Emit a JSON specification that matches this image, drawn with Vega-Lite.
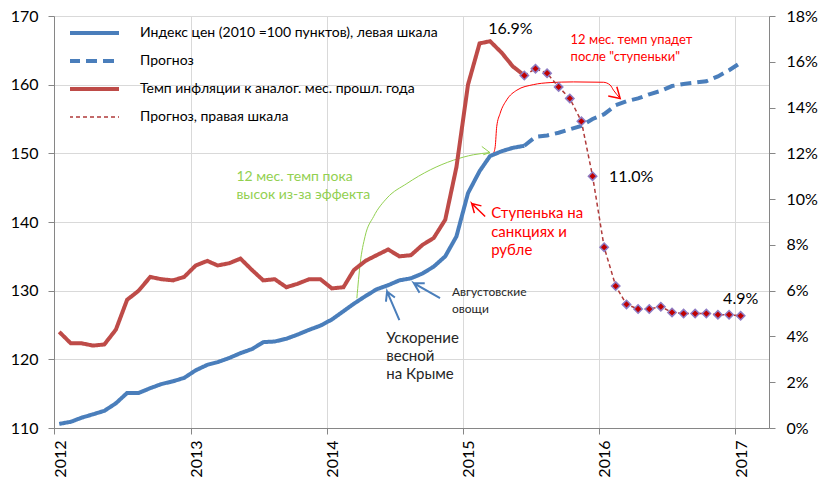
{
  "$schema": "https://vega.github.io/schema/vega-lite/v6.json",
  "width": 715,
  "height": 412,
  "autosize": {"type": "none"},
  "padding": {"left": 54, "top": 16, "right": 55, "bottom": 55},
  "background": "white",
  "datasets": {
    "series": [
      {"date": "2012-01-15", "series": "Индекс цен (2010 =100 пунктов), левая шкала", "value": 110.6},
      {"date": "2012-02-15", "series": "Индекс цен (2010 =100 пунктов), левая шкала", "value": 110.9},
      {"date": "2012-03-15", "series": "Индекс цен (2010 =100 пунктов), левая шкала", "value": 111.5},
      {"date": "2012-04-15", "series": "Индекс цен (2010 =100 пунктов), левая шкала", "value": 112.0},
      {"date": "2012-05-15", "series": "Индекс цен (2010 =100 пунктов), левая шкала", "value": 112.5},
      {"date": "2012-06-15", "series": "Индекс цен (2010 =100 пунктов), левая шкала", "value": 113.6},
      {"date": "2012-07-15", "series": "Индекс цен (2010 =100 пунктов), левая шкала", "value": 115.1},
      {"date": "2012-08-15", "series": "Индекс цен (2010 =100 пунктов), левая шкала", "value": 115.1},
      {"date": "2012-09-15", "series": "Индекс цен (2010 =100 пунктов), левая шкала", "value": 115.8},
      {"date": "2012-10-15", "series": "Индекс цен (2010 =100 пунктов), левая шкала", "value": 116.4},
      {"date": "2012-11-15", "series": "Индекс цен (2010 =100 пунктов), левая шкала", "value": 116.8},
      {"date": "2012-12-15", "series": "Индекс цен (2010 =100 пунктов), левая шкала", "value": 117.3},
      {"date": "2013-01-15", "series": "Индекс цен (2010 =100 пунктов), левая шкала", "value": 118.4},
      {"date": "2013-02-15", "series": "Индекс цен (2010 =100 пунктов), левая шкала", "value": 119.2},
      {"date": "2013-03-15", "series": "Индекс цен (2010 =100 пунктов), левая шкала", "value": 119.6},
      {"date": "2013-04-15", "series": "Индекс цен (2010 =100 пунктов), левая шкала", "value": 120.2},
      {"date": "2013-05-15", "series": "Индекс цен (2010 =100 пунктов), левая шкала", "value": 120.9},
      {"date": "2013-06-15", "series": "Индекс цен (2010 =100 пунктов), левая шкала", "value": 121.5},
      {"date": "2013-07-15", "series": "Индекс цен (2010 =100 пунктов), левая шкала", "value": 122.5},
      {"date": "2013-08-15", "series": "Индекс цен (2010 =100 пунктов), левая шкала", "value": 122.6},
      {"date": "2013-09-15", "series": "Индекс цен (2010 =100 пунктов), левая шкала", "value": 123.0},
      {"date": "2013-10-15", "series": "Индекс цен (2010 =100 пунктов), левая шкала", "value": 123.6},
      {"date": "2013-11-15", "series": "Индекс цен (2010 =100 пунктов), левая шкала", "value": 124.3},
      {"date": "2013-12-15", "series": "Индекс цен (2010 =100 пунктов), левая шкала", "value": 124.9},
      {"date": "2014-01-15", "series": "Индекс цен (2010 =100 пунктов), левая шкала", "value": 125.8},
      {"date": "2014-02-15", "series": "Индекс цен (2010 =100 пунктов), левая шкала", "value": 127.0},
      {"date": "2014-03-15", "series": "Индекс цен (2010 =100 пунктов), левая шкала", "value": 128.1},
      {"date": "2014-04-15", "series": "Индекс цен (2010 =100 пунктов), левая шкала", "value": 129.2},
      {"date": "2014-05-15", "series": "Индекс цен (2010 =100 пунктов), левая шкала", "value": 130.2},
      {"date": "2014-06-15", "series": "Индекс цен (2010 =100 пунктов), левая шкала", "value": 130.8},
      {"date": "2014-07-15", "series": "Индекс цен (2010 =100 пунктов), левая шкала", "value": 131.5},
      {"date": "2014-08-15", "series": "Индекс цен (2010 =100 пунктов), левая шкала", "value": 131.8},
      {"date": "2014-09-15", "series": "Индекс цен (2010 =100 пунктов), левая шкала", "value": 132.5},
      {"date": "2014-10-15", "series": "Индекс цен (2010 =100 пунктов), левая шкала", "value": 133.5},
      {"date": "2014-11-15", "series": "Индекс цен (2010 =100 пунктов), левая шкала", "value": 135.0},
      {"date": "2014-12-15", "series": "Индекс цен (2010 =100 пунктов), левая шкала", "value": 137.9},
      {"date": "2015-01-15", "series": "Индекс цен (2010 =100 пунктов), левая шкала", "value": 144.2},
      {"date": "2015-02-15", "series": "Индекс цен (2010 =100 пунктов), левая шкала", "value": 147.4},
      {"date": "2015-03-15", "series": "Индекс цен (2010 =100 пунктов), левая шкала", "value": 149.6},
      {"date": "2015-04-15", "series": "Индекс цен (2010 =100 пунктов), левая шкала", "value": 150.3},
      {"date": "2015-05-15", "series": "Индекс цен (2010 =100 пунктов), левая шкала", "value": 150.8},
      {"date": "2015-06-15", "series": "Индекс цен (2010 =100 пунктов), левая шкала", "value": 151.1},

      {"date": "2015-06-15", "series": "Прогноз", "value": 151.1},
      {"date": "2015-07-15", "series": "Прогноз", "value": 152.4},
      {"date": "2015-08-15", "series": "Прогноз", "value": 152.6},
      {"date": "2015-09-15", "series": "Прогноз", "value": 153.0},
      {"date": "2015-10-15", "series": "Прогноз", "value": 153.5},
      {"date": "2015-11-15", "series": "Прогноз", "value": 154.0},
      {"date": "2015-12-15", "series": "Прогноз", "value": 155.0},
      {"date": "2016-01-15", "series": "Прогноз", "value": 155.7},
      {"date": "2016-02-15", "series": "Прогноз", "value": 157.0},
      {"date": "2016-03-15", "series": "Прогноз", "value": 157.6},
      {"date": "2016-04-15", "series": "Прогноз", "value": 158.0},
      {"date": "2016-05-15", "series": "Прогноз", "value": 158.6},
      {"date": "2016-06-15", "series": "Прогноз", "value": 159.1},
      {"date": "2016-07-15", "series": "Прогноз", "value": 159.8},
      {"date": "2016-08-15", "series": "Прогноз", "value": 160.1},
      {"date": "2016-09-15", "series": "Прогноз", "value": 160.3},
      {"date": "2016-10-15", "series": "Прогноз", "value": 160.5},
      {"date": "2016-11-15", "series": "Прогноз", "value": 161.2},
      {"date": "2016-12-15", "series": "Прогноз", "value": 162.1},
      {"date": "2017-01-15", "series": "Прогноз", "value": 163.2},

      {"date": "2012-01-15", "series": "Темп инфляции к аналог. мес. прошл. года", "value": 4.2},
      {"date": "2012-02-15", "series": "Темп инфляции к аналог. мес. прошл. года", "value": 3.7},
      {"date": "2012-03-15", "series": "Темп инфляции к аналог. мес. прошл. года", "value": 3.7},
      {"date": "2012-04-15", "series": "Темп инфляции к аналог. мес. прошл. года", "value": 3.6},
      {"date": "2012-05-15", "series": "Темп инфляции к аналог. мес. прошл. года", "value": 3.65},
      {"date": "2012-06-15", "series": "Темп инфляции к аналог. мес. прошл. года", "value": 4.3},
      {"date": "2012-07-15", "series": "Темп инфляции к аналог. мес. прошл. года", "value": 5.6},
      {"date": "2012-08-15", "series": "Темп инфляции к аналог. мес. прошл. года", "value": 6.0},
      {"date": "2012-09-15", "series": "Темп инфляции к аналог. мес. прошл. года", "value": 6.6},
      {"date": "2012-10-15", "series": "Темп инфляции к аналог. мес. прошл. года", "value": 6.5},
      {"date": "2012-11-15", "series": "Темп инфляции к аналог. мес. прошл. года", "value": 6.45},
      {"date": "2012-12-15", "series": "Темп инфляции к аналог. мес. прошл. года", "value": 6.6},
      {"date": "2013-01-15", "series": "Темп инфляции к аналог. мес. прошл. года", "value": 7.1},
      {"date": "2013-02-15", "series": "Темп инфляции к аналог. мес. прошл. года", "value": 7.3},
      {"date": "2013-03-15", "series": "Темп инфляции к аналог. мес. прошл. года", "value": 7.1},
      {"date": "2013-04-15", "series": "Темп инфляции к аналог. мес. прошл. года", "value": 7.2},
      {"date": "2013-05-15", "series": "Темп инфляции к аналог. мес. прошл. года", "value": 7.4},
      {"date": "2013-06-15", "series": "Темп инфляции к аналог. мес. прошл. года", "value": 6.9},
      {"date": "2013-07-15", "series": "Темп инфляции к аналог. мес. прошл. года", "value": 6.45},
      {"date": "2013-08-15", "series": "Темп инфляции к аналог. мес. прошл. года", "value": 6.5},
      {"date": "2013-09-15", "series": "Темп инфляции к аналог. мес. прошл. года", "value": 6.15},
      {"date": "2013-10-15", "series": "Темп инфляции к аналог. мес. прошл. года", "value": 6.3},
      {"date": "2013-11-15", "series": "Темп инфляции к аналог. мес. прошл. года", "value": 6.5},
      {"date": "2013-12-15", "series": "Темп инфляции к аналог. мес. прошл. года", "value": 6.5},
      {"date": "2014-01-15", "series": "Темп инфляции к аналог. мес. прошл. года", "value": 6.1},
      {"date": "2014-02-15", "series": "Темп инфляции к аналог. мес. прошл. года", "value": 6.15},
      {"date": "2014-03-15", "series": "Темп инфляции к аналог. мес. прошл. года", "value": 6.9},
      {"date": "2014-04-15", "series": "Темп инфляции к аналог. мес. прошл. года", "value": 7.3},
      {"date": "2014-05-15", "series": "Темп инфляции к аналог. мес. прошл. года", "value": 7.55},
      {"date": "2014-06-15", "series": "Темп инфляции к аналог. мес. прошл. года", "value": 7.8},
      {"date": "2014-07-15", "series": "Темп инфляции к аналог. мес. прошл. года", "value": 7.5},
      {"date": "2014-08-15", "series": "Темп инфляции к аналог. мес. прошл. года", "value": 7.55},
      {"date": "2014-09-15", "series": "Темп инфляции к аналог. мес. прошл. года", "value": 8.0},
      {"date": "2014-10-15", "series": "Темп инфляции к аналог. мес. прошл. года", "value": 8.3},
      {"date": "2014-11-15", "series": "Темп инфляции к аналог. мес. прошл. года", "value": 9.1},
      {"date": "2014-12-15", "series": "Темп инфляции к аналог. мес. прошл. года", "value": 11.4},
      {"date": "2015-01-15", "series": "Темп инфляции к аналог. мес. прошл. года", "value": 15.0},
      {"date": "2015-02-15", "series": "Темп инфляции к аналог. мес. прошл. года", "value": 16.8},
      {"date": "2015-03-15", "series": "Темп инфляции к аналог. мес. прошл. года", "value": 16.9},
      {"date": "2015-04-15", "series": "Темп инфляции к аналог. мес. прошл. года", "value": 16.4},
      {"date": "2015-05-15", "series": "Темп инфляции к аналог. мес. прошл. года", "value": 15.8},
      {"date": "2015-06-15", "series": "Темп инфляции к аналог. мес. прошл. года", "value": 15.4},

      {"date": "2015-06-15", "series": "Прогноз, правая шкала", "value": 15.4},
      {"date": "2015-07-15", "series": "Прогноз, правая шкала", "value": 15.7},
      {"date": "2015-08-15", "series": "Прогноз, правая шкала", "value": 15.5},
      {"date": "2015-09-15", "series": "Прогноз, правая шкала", "value": 14.9},
      {"date": "2015-10-15", "series": "Прогноз, правая шкала", "value": 14.4},
      {"date": "2015-11-15", "series": "Прогноз, правая шкала", "value": 13.4},
      {"date": "2015-12-15", "series": "Прогноз, правая шкала", "value": 11.0},
      {"date": "2016-01-15", "series": "Прогноз, правая шкала", "value": 7.9},
      {"date": "2016-02-15", "series": "Прогноз, правая шкала", "value": 6.2},
      {"date": "2016-03-15", "series": "Прогноз, правая шкала", "value": 5.4},
      {"date": "2016-04-15", "series": "Прогноз, правая шкала", "value": 5.2},
      {"date": "2016-05-15", "series": "Прогноз, правая шкала", "value": 5.2},
      {"date": "2016-06-15", "series": "Прогноз, правая шкала", "value": 5.3},
      {"date": "2016-07-15", "series": "Прогноз, правая шкала", "value": 5.05},
      {"date": "2016-08-15", "series": "Прогноз, правая шкала", "value": 5.0},
      {"date": "2016-09-15", "series": "Прогноз, правая шкала", "value": 5.0},
      {"date": "2016-10-15", "series": "Прогноз, правая шкала", "value": 5.0},
      {"date": "2016-11-15", "series": "Прогноз, правая шкала", "value": 4.95},
      {"date": "2016-12-15", "series": "Прогноз, правая шкала", "value": 4.95},
      {"date": "2017-01-15", "series": "Прогноз, правая шкала", "value": 4.9}
    ],
    "notes": [
      {"group": "pct", "text": "16.9%", "date": "2015-03-10", "value": 168.1},
      {"group": "pct", "text": "11.0%", "date": "2016-01-28", "value": 146.55},
      {"group": "pct", "text": "4.9%", "date": "2016-11-29", "value": 128.8},
      {"group": "redsmall", "text": "12 мес. темп упадет", "date": "2015-10-17", "value": 166.5},
      {"group": "redsmall", "text": "после \"ступеньки\"", "date": "2015-10-17", "value": 164.0},
      {"group": "redbig", "text": "Ступенька на", "date": "2015-03-18", "value": 141.3},
      {"group": "redbig", "text": "санкциях и", "date": "2015-03-18", "value": 138.55},
      {"group": "redbig", "text": "рубле", "date": "2015-03-18", "value": 135.9},
      {"group": "green", "text": "12 мес. темп пока", "date": "2013-05-04", "value": 146.55},
      {"group": "green", "text": "высок из-за эффекта", "date": "2013-05-04", "value": 143.9},
      {"group": "darksmall", "text": "Августовские", "date": "2014-12-03", "value": 129.8},
      {"group": "darksmall", "text": "овощи", "date": "2014-12-03", "value": 127.3},
      {"group": "dark", "text": "Ускорение", "date": "2014-06-10", "value": 123.1},
      {"group": "dark", "text": "весной", "date": "2014-06-10", "value": 120.5},
      {"group": "dark", "text": "на Крыме", "date": "2014-06-10", "value": 117.9}
    ],
    "arrows": [
      {"id": "g", "date": "2014-03-23", "value": 128.9},
      {"id": "g", "date": "2014-04-01", "value": 134.0},
      {"id": "g", "date": "2014-04-14", "value": 137.9},
      {"id": "g", "date": "2014-05-07", "value": 140.8},
      {"id": "g", "date": "2014-06-12", "value": 143.5},
      {"id": "g", "date": "2014-08-04", "value": 145.6},
      {"id": "g", "date": "2014-10-06", "value": 147.6},
      {"id": "g", "date": "2014-12-07", "value": 149.0},
      {"id": "g", "date": "2015-01-30", "value": 149.8},
      {"id": "g", "date": "2015-03-15", "value": 150.1},
      {"id": "gh", "date": "2015-02-21", "value": 151.0},
      {"id": "gh", "date": "2015-03-15", "value": 150.1},
      {"id": "gh", "date": "2015-02-25", "value": 149.8},
      {"id": "r", "date": "2015-03-24", "value": 150.0},
      {"id": "r", "date": "2015-03-29", "value": 151.0},
      {"id": "r", "date": "2015-04-02", "value": 153.9},
      {"id": "r", "date": "2015-04-11", "value": 155.8},
      {"id": "r", "date": "2015-04-29", "value": 157.8},
      {"id": "r", "date": "2015-05-26", "value": 159.2},
      {"id": "r", "date": "2015-07-09", "value": 160.0},
      {"id": "r", "date": "2015-08-23", "value": 160.3},
      {"id": "r", "date": "2015-10-25", "value": 160.4},
      {"id": "r", "date": "2016-01-13", "value": 160.35},
      {"id": "r", "date": "2016-01-31", "value": 159.95},
      {"id": "r", "date": "2016-02-09", "value": 159.2},
      {"id": "r", "date": "2016-02-27", "value": 158.0},
      {"id": "rh", "date": "2016-01-26", "value": 158.35},
      {"id": "rh", "date": "2016-02-27", "value": 158.0},
      {"id": "rh", "date": "2016-02-18", "value": 159.7},
      {"id": "ra", "date": "2015-03-02", "value": 140.8},
      {"id": "ra", "date": "2015-01-25", "value": 142.7},
      {"id": "ra", "date": "2015-02-01", "value": 141.3},
      {"id": "ra", "date": "2015-01-25", "value": 142.7},
      {"id": "ra", "date": "2015-02-20", "value": 142.35},
      {"id": "b1", "date": "2014-07-15", "value": 125.7},
      {"id": "b1", "date": "2014-06-12", "value": 129.85},
      {"id": "b1", "date": "2014-06-09", "value": 128.4},
      {"id": "b1", "date": "2014-06-12", "value": 129.85},
      {"id": "b1", "date": "2014-07-03", "value": 129.0},
      {"id": "b2", "date": "2014-11-01", "value": 128.9},
      {"id": "b2", "date": "2014-08-23", "value": 131.07},
      {"id": "b2", "date": "2014-09-07", "value": 129.69},
      {"id": "b2", "date": "2014-08-23", "value": 131.07},
      {"id": "b2", "date": "2014-09-21", "value": 131.07}
    ]
  },
  "encoding": {
    "x": {
      "field": "date",
      "type": "temporal",
      "title": null,
      "scale": {
        "type": "utc",
        "domain": [
          {"year": 2012, "month": 1, "date": 1, "utc": true},
          {"year": 2017, "month": 4, "date": 1, "utc": true}
        ]
      },
      "axis": {
        "values": [
          {"year": 2012, "month": 1, "date": 1, "utc": true},
          {"year": 2013, "month": 1, "date": 1, "utc": true},
          {"year": 2014, "month": 1, "date": 1, "utc": true},
          {"year": 2015, "month": 1, "date": 1, "utc": true},
          {"year": 2016, "month": 1, "date": 1, "utc": true},
          {"year": 2017, "month": 1, "date": 1, "utc": true}
        ],
        "labelExpr": "utcFormat(datum.value, '%Y')",
        "labelAngle": 270,
        "labelPadding": 6,
        "labelOffset": 6,
        "grid": true
      }
    }
  },
  "layer": [
    {
      "encoding": {
        "y": {
          "field": "value",
          "type": "quantitative",
          "title": null,
          "scale": {"domain": [110, 170], "nice": false, "zero": false},
          "axis": {"values": [110, 120, 130, 140, 150, 160, 170], "grid": true, "labelPadding": 10}
        }
      },
      "layer": [
        {
          "data": {"name": "arrows"},
          "transform": [{"filter": "datum.id == 'g'"}],
          "mark": {"type": "line", "interpolate": "monotone", "color": "#92D050", "strokeWidth": 1}
        },
        {
          "data": {"name": "arrows"},
          "transform": [{"filter": "datum.id == 'gh'"}],
          "mark": {"type": "line", "color": "#92D050", "strokeWidth": 1},
          "encoding": {"order": {"value": null}}
        },
        {
          "data": {"name": "arrows"},
          "transform": [{"filter": "datum.id == 'r'"}],
          "mark": {"type": "line", "interpolate": "monotone", "color": "#FF0000", "strokeWidth": 1}
        },
        {
          "data": {"name": "arrows"},
          "transform": [{"filter": "datum.id == 'rh' || datum.id == 'ra'"}],
          "mark": {"type": "line", "color": "#FF0000", "strokeWidth": 1.5},
          "encoding": {"detail": {"field": "id"}, "order": {"value": null}}
        },
        {
          "data": {"name": "arrows"},
          "transform": [{"filter": "datum.id == 'b1' || datum.id == 'b2'"}],
          "mark": {"type": "line", "color": "#4A7EBB", "strokeWidth": 2},
          "encoding": {"detail": {"field": "id"}, "order": {"value": null}}
        },
        {
          "data": {"name": "series"},
          "transform": [{"filter": {"field": "series", "oneOf": ["Индекс цен (2010 =100 пунктов), левая шкала", "Прогноз"]}}],
          "mark": {"type": "line", "strokeCap": "butt", "strokeWidth": 4},
          "encoding": {
            "color": {
              "field": "series", "type": "nominal", "title": null,
              "scale": {
                "domain": ["Индекс цен (2010 =100 пунктов), левая шкала", "Прогноз", "Темп инфляции к аналог. мес. прошл. года", "Прогноз, правая шкала"],
                "range": ["#4A7EBB", "#4A7EBB", "#BE4B48", "#B03A3A"]
              },
              "legend": {
                "orient": "none",
                "legendX": 16,
                "legendY": 9,
                "symbolStrokeWidth": 4,
                "encode": {
                  "symbols": {
                    "update": {
                      "strokeWidth": {"signal": "datum.value == 'Прогноз, правая шкала' ? 1.5 : 4"}
                    }
                  }
                }
              }
            },
            "strokeDash": {
              "field": "series", "type": "nominal", "title": null,
              "scale": {
                "domain": ["Индекс цен (2010 =100 пунктов), левая шкала", "Прогноз", "Темп инфляции к аналог. мес. прошл. года", "Прогноз, правая шкала"],
                "range": [[1, 0], [11, 6], [1, 0], [4, 3]]
              }
            }
          }
        },
        {
          "data": {"name": "notes"},
          "transform": [{"filter": "datum.group == 'pct'"}],
          "mark": {"type": "text", "align": "left", "baseline": "middle", "font": "Lato", "fontSize": 16, "color": "#000000"},
          "encoding": {"text": {"field": "text"}}
        },
        {
          "data": {"name": "notes"},
          "transform": [{"filter": "datum.group == 'redsmall'"}],
          "mark": {"type": "text", "align": "left", "baseline": "middle", "font": "Lato", "fontSize": 13, "color": "#FF0000"},
          "encoding": {"text": {"field": "text"}}
        },
        {
          "data": {"name": "notes"},
          "transform": [{"filter": "datum.group == 'redbig'"}],
          "mark": {"type": "text", "align": "left", "baseline": "middle", "font": "Lato", "fontSize": 15, "color": "#FF0000"},
          "encoding": {"text": {"field": "text"}}
        },
        {
          "data": {"name": "notes"},
          "transform": [{"filter": "datum.group == 'green'"}],
          "mark": {"type": "text", "align": "left", "baseline": "middle", "font": "Lato", "fontSize": 14, "color": "#92D050"},
          "encoding": {"text": {"field": "text"}}
        },
        {
          "data": {"name": "notes"},
          "transform": [{"filter": "datum.group == 'darksmall'"}],
          "mark": {"type": "text", "align": "left", "baseline": "middle", "font": "Lato", "fontSize": 12, "color": "#262626"},
          "encoding": {"text": {"field": "text"}}
        },
        {
          "data": {"name": "notes"},
          "transform": [{"filter": "datum.group == 'dark'"}],
          "mark": {"type": "text", "align": "left", "baseline": "middle", "font": "Lato", "fontSize": 15, "color": "#262626"},
          "encoding": {"text": {"field": "text"}}
        }
      ]
    },
    {
      "encoding": {
        "y": {
          "field": "value",
          "type": "quantitative",
          "title": null,
          "scale": {"domain": [0, 18], "nice": false},
          "axis": {
            "orient": "right",
            "values": [0, 2, 4, 6, 8, 10, 12, 14, 16, 18],
            "labelExpr": "datum.value + '%'",
            "grid": false,
            "labelPadding": 11
          }
        }
      },
      "layer": [
        {
          "data": {"name": "series"},
          "transform": [{"filter": {"field": "series", "equal": "Темп инфляции к аналог. мес. прошл. года"}}],
          "mark": {"type": "line", "strokeCap": "butt", "strokeWidth": 4},
          "encoding": {
            "color": {"field": "series", "type": "nominal", "title": null},
            "strokeDash": {"field": "series", "type": "nominal", "title": null}
          }
        },
        {
          "data": {"name": "series"},
          "transform": [{"filter": {"field": "series", "equal": "Прогноз, правая шкала"}}],
          "mark": {"type": "line", "strokeCap": "butt", "strokeWidth": 1.5},
          "encoding": {
            "color": {"field": "series", "type": "nominal", "title": null},
            "strokeDash": {"field": "series", "type": "nominal", "title": null}
          }
        },
        {
          "data": {"name": "series"},
          "transform": [{"filter": {"field": "series", "equal": "Прогноз, правая шкала"}}],
          "mark": {"type": "point", "shape": "diamond", "filled": true, "size": 70, "fill": "#C00000", "stroke": "#8E7CC3", "strokeWidth": 1.5, "opacity": 1}
        }
      ]
    }
  ],
  "resolve": {"scale": {"y": "independent"}},
  "config": {
    "font": "Lato",
    "view": {"stroke": null},
    "axis": {
      "labelFont": "Lato",
      "labelFontSize": 16,
      "labelColor": "#000000",
      "domainColor": "#868686",
      "tickColor": "#868686",
      "gridColor": "#D9D9D9",
      "tickSize": 6
    },
    "legend": {
      "orient": "none",
      "legendX": 16,
      "legendY": 9,
      "padding": 0,
      "labelFont": "Lato",
      "labelFontSize": 14,
      "labelColor": "#000000",
      "labelLimit": 400,
      "symbolType": "stroke",
      "symbolSize": 2500,
      "symbolStrokeWidth": 4,
      "symbolOffset": 17,
      "clipHeight": 16,
      "labelOffset": 39,
      "rowPadding": 12
    }
  }
}
